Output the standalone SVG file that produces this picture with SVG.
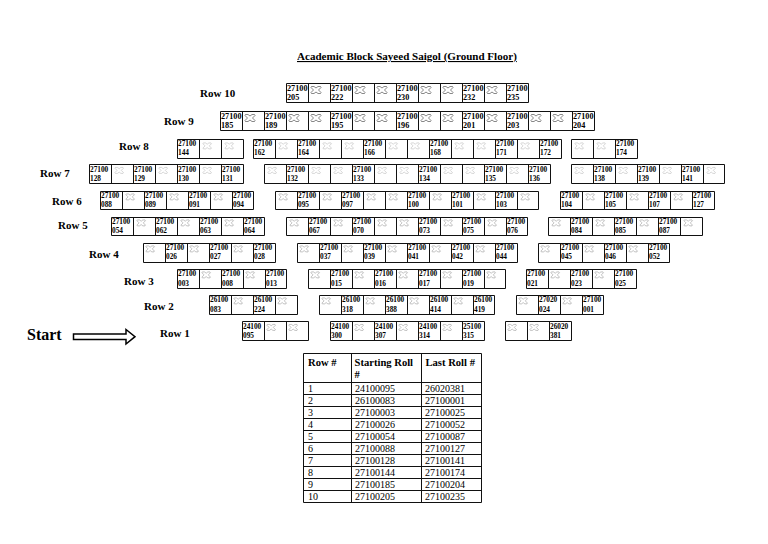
<svg xmlns="http://www.w3.org/2000/svg" width="768" height="544" viewBox="0 0 768 544">
<style>
text{font-family:"Liberation Serif","Times New Roman",serif;fill:#000}
svg>g{opacity:.995}
.l{font-weight:bold;font-size:11px}
.s{font-weight:bold;font-size:7.3px}
.b{font-weight:bold;font-size:8.2px}
.m{font-weight:bold;font-size:7.3px}
.g{fill:none;stroke:#111;stroke-width:1}
.ia{fill:none;stroke:#555;stroke-width:.7}
.ib{fill:none;stroke:#999;stroke-width:.7}
.ic{fill:none;stroke:#bbb;stroke-width:.7}
.th{font-weight:bold;font-size:10.6px}
.td{font-size:10px}
</style>
<defs>
<path id="x" d="M1,.5H3.5L5.5,2L7.5,.5H10L10.5,1.5L8,4L10.5,6.5L10,7.5H7.5L5.5,6L3.5,7.5H1L.5,6.5L3,4L.5,1.5Z"/>
<path id="y" transform="scale(.85)" d="M1,.5H3.5L5.5,2L7.5,.5H10L10.5,1.5L8,4L10.5,6.5L10,7.5H7.5L5.5,6L3.5,7.5H1L.5,6.5L3,4L.5,1.5Z"/>
</defs>
<g id="title"><text x="297" y="60" font-size="11.05" font-weight="bold" text-decoration="underline">Academic Block Sayeed Saigol (Ground Floor)</text></g>
<g id="row-labels">
<text class="l" x="200" y="97">Row 10</text>
<text class="l" x="164" y="125">Row 9</text>
<text class="l" x="119" y="150">Row 8</text>
<text class="l" x="40" y="177">Row 7</text>
<text class="l" x="52" y="205">Row 6</text>
<text class="l" x="58" y="229">Row 5</text>
<text class="l" x="89" y="258">Row 4</text>
<text class="l" x="124" y="285">Row 3</text>
<text class="l" x="144" y="310">Row 2</text>
<text class="l" x="160" y="337">Row 1</text>
<text x="27" y="340" font-size="16" font-weight="bold">Start</text>
</g>
<g id="connectors"><path id="start-arrow" d="M73.500,334H126V329.500L135,336.700L126,344V339.500H73.500Z" fill="#fff" stroke="#000" stroke-width="1.500"/></g>

<g id="row10" transform="translate(286.500,83.500)">
<path class="g" d="M0,0H242V19H0ZM22,0V19M44,0V19M66,0V19M88,0V19M110,0V19M132,0V19M154,0V19M176,0V19M198,0V19M220,0V19"/>
<g class="b"><text x=".5" y="7.500">27100</text><text x=".5" y="16.500">205</text><text x="44.500" y="7.500">27100</text><text x="44.500" y="16.500">222</text><text x="110.500" y="7.500">27100</text><text x="110.500" y="16.500">230</text><text x="176.500" y="7.500">27100</text><text x="176.500" y="16.500">232</text><text x="220.500" y="7.500">27100</text><text x="220.500" y="16.500">235</text></g>
<g class="ia"><use href="#x" x="24" y="2.500"/><use href="#x" x="68" y="2.500"/><use href="#x" x="90" y="2.500"/><use href="#x" x="134" y="2.500"/><use href="#x" x="156" y="2.500"/><use href="#x" x="200" y="2.500"/></g>
</g>

<g id="row9" transform="translate(220.500,111.500)">
<path class="g" d="M0,0H374V19H0ZM22,0V19M44,0V19M66,0V19M88,0V19M110,0V19M132,0V19M154,0V19M176,0V19M198,0V19M220,0V19M242,0V19M264,0V19M286,0V19M308,0V19M330,0V19M352,0V19"/>
<g class="b"><text x=".5" y="7.500">27100</text><text x=".5" y="16.500">185</text><text x="44.500" y="7.500">27100</text><text x="44.500" y="16.500">189</text><text x="110.500" y="7.500">27100</text><text x="110.500" y="16.500">195</text><text x="176.500" y="7.500">27100</text><text x="176.500" y="16.500">196</text><text x="242.500" y="7.500">27100</text><text x="242.500" y="16.500">201</text><text x="286.500" y="7.500">27100</text><text x="286.500" y="16.500">203</text><text x="352.500" y="7.500">27100</text><text x="352.500" y="16.500">204</text></g>
<g class="ia"><use href="#x" x="24" y="2.500"/><use href="#x" x="68" y="2.500"/><use href="#x" x="90" y="2.500"/><use href="#x" x="134" y="2.500"/><use href="#x" x="156" y="2.500"/><use href="#x" x="200" y="2.500"/><use href="#x" x="222" y="2.500"/><use href="#x" x="266" y="2.500"/><use href="#x" x="310" y="2.500"/><use href="#x" x="332" y="2.500"/></g>
</g>

<g id="row8">
<g transform="translate(177.500,139.500)">
<path class="g" d="M0,0H66V19H0ZM22,0V19M44,0V19"/>
<g class="m"><text x=".5" y="6.500">27100</text><text x=".5" y="15">144</text></g>
<g class="ic"><use href="#y" x="25" y="3"/><use href="#y" x="47" y="3"/></g>
</g>
<g transform="translate(253.500,139.500)">
<path class="g" d="M0,0H308V19H0ZM22,0V19M44,0V19M66,0V19M88,0V19M110,0V19M132,0V19M154,0V19M176,0V19M198,0V19M220,0V19M242,0V19M264,0V19M286,0V19"/>
<g class="m"><text x=".5" y="6.500">27100</text><text x=".5" y="15">162</text><text x="44.500" y="6.500">27100</text><text x="44.500" y="15">164</text><text x="110.500" y="6.500">27100</text><text x="110.500" y="15">166</text><text x="176.500" y="6.500">27100</text><text x="176.500" y="15">168</text><text x="242.500" y="6.500">27100</text><text x="242.500" y="15">171</text><text x="286.500" y="6.500">27100</text><text x="286.500" y="15">172</text></g>
<g class="ic"><use href="#y" x="25" y="3"/><use href="#y" x="69" y="3"/><use href="#y" x="91" y="3"/><use href="#y" x="135" y="3"/><use href="#y" x="157" y="3"/><use href="#y" x="201" y="3"/><use href="#y" x="223" y="3"/><use href="#y" x="267" y="3"/></g>
</g>
<g transform="translate(571.500,139.500)">
<path class="g" d="M0,0H66V19H0ZM22,0V19M44,0V19"/>
<g class="m"><text x="44.500" y="6.500">27100</text><text x="44.500" y="15">174</text></g>
<g class="ic"><use href="#y" x="3" y="3"/><use href="#y" x="25" y="3"/></g>
</g>
</g>

<g id="row7">
<g transform="translate(89.500,164.500)">
<path class="g" d="M0,0H154V19H0ZM22,0V19M44,0V19M66,0V19M88,0V19M110,0V19M132,0V19"/>
<g class="s"><text x=".5" y="7.300">27100</text><text x=".5" y="16">128</text><text x="44.500" y="7.300">27100</text><text x="44.500" y="16">129</text><text x="88.500" y="7.300">27100</text><text x="88.500" y="16">130</text><text x="132.500" y="7.300">27100</text><text x="132.500" y="16">131</text></g>
<g class="ic"><use href="#y" x="25" y="2.500"/><use href="#y" x="69" y="2.500"/><use href="#y" x="113" y="2.500"/></g>
</g>
<g transform="translate(264.500,164.500)">
<path class="g" d="M0,0H286V19H0ZM22,0V19M44,0V19M66,0V19M88,0V19M110,0V19M132,0V19M154,0V19M176,0V19M198,0V19M220,0V19M242,0V19M264,0V19"/>
<g class="s"><text x="22.500" y="7.300">27100</text><text x="22.500" y="16">132</text><text x="88.500" y="7.300">27100</text><text x="88.500" y="16">133</text><text x="154.500" y="7.300">27100</text><text x="154.500" y="16">134</text><text x="220.500" y="7.300">27100</text><text x="220.500" y="16">135</text><text x="264.500" y="7.300">27100</text><text x="264.500" y="16">136</text></g>
<g class="ic"><use href="#y" x="3" y="2.500"/><use href="#y" x="47" y="2.500"/><use href="#y" x="69" y="2.500"/><use href="#y" x="113" y="2.500"/><use href="#y" x="135" y="2.500"/><use href="#y" x="179" y="2.500"/><use href="#y" x="201" y="2.500"/><use href="#y" x="245" y="2.500"/></g>
</g>
<g transform="translate(571.500,164.500)">
<path class="g" d="M0,0H153V19H0ZM22,0V19M44,0V19M66,0V19M88,0V19M110,0V19M132,0V19"/>
<g class="s"><text x="22.500" y="7.300">27100</text><text x="22.500" y="16">138</text><text x="66.500" y="7.300">27100</text><text x="66.500" y="16">139</text><text x="110.500" y="7.300">27100</text><text x="110.500" y="16">141</text></g>
<g class="ic"><use href="#y" x="3" y="2.500"/><use href="#y" x="47" y="2.500"/><use href="#y" x="91" y="2.500"/><use href="#y" x="135" y="2.500"/></g>
</g>
</g>

<g id="row6">
<g transform="translate(100.500,191.500)">
<path class="g" d="M0,0H153V18H0ZM22,0V18M44,0V18M66,0V18M88,0V18M110,0V18M132,0V18"/>
<g class="s"><text x=".5" y="6.800">27100</text><text x=".5" y="15.500">088</text><text x="44.500" y="6.800">27100</text><text x="44.500" y="15.500">089</text><text x="88.500" y="6.800">27100</text><text x="88.500" y="15.500">091</text><text x="132.500" y="6.800">27100</text><text x="132.500" y="15.500">094</text></g>
<g class="ib"><use href="#y" x="25" y="2"/><use href="#y" x="69" y="2"/><use href="#y" x="113" y="2"/></g>
</g>
<g transform="translate(275.500,191.500)">
<path class="g" d="M0,0H263V18H0ZM22,0V18M44,0V18M66,0V18M88,0V18M110,0V18M132,0V18M154,0V18M176,0V18M198,0V18M220,0V18M242,0V18"/>
<g class="s"><text x="22.500" y="6.800">27100</text><text x="22.500" y="15.500">095</text><text x="66.500" y="6.800">27100</text><text x="66.500" y="15.500">097</text><text x="132.500" y="6.800">27100</text><text x="132.500" y="15.500">100</text><text x="176.500" y="6.800">27100</text><text x="176.500" y="15.500">101</text><text x="220.500" y="6.800">27100</text><text x="220.500" y="15.500">103</text></g>
<g class="ib"><use href="#y" x="3" y="2"/><use href="#y" x="47" y="2"/><use href="#y" x="91" y="2"/><use href="#y" x="113" y="2"/><use href="#y" x="157" y="2"/><use href="#y" x="201" y="2"/><use href="#y" x="245" y="2"/></g>
</g>
<g transform="translate(560.500,191.500)">
<path class="g" d="M0,0H154V18H0ZM22,0V18M44,0V18M66,0V18M88,0V18M110,0V18M132,0V18"/>
<g class="s"><text x=".5" y="6.800">27100</text><text x=".5" y="15.500">104</text><text x="44.500" y="6.800">27100</text><text x="44.500" y="15.500">105</text><text x="88.500" y="6.800">27100</text><text x="88.500" y="15.500">107</text><text x="132.500" y="6.800">27100</text><text x="132.500" y="15.500">127</text></g>
<g class="ib"><use href="#y" x="25" y="2"/><use href="#y" x="69" y="2"/><use href="#y" x="113" y="2"/></g>
</g>
</g>

<g id="row5">
<g transform="translate(111.500,217.500)">
<path class="g" d="M0,0H153V18H0ZM22,0V18M44,0V18M66,0V18M88,0V18M110,0V18M132,0V18"/>
<g class="s"><text x=".5" y="6.800">27100</text><text x=".5" y="15.500">054</text><text x="44.500" y="6.800">27100</text><text x="44.500" y="15.500">062</text><text x="88.500" y="6.800">27100</text><text x="88.500" y="15.500">063</text><text x="132.500" y="6.800">27100</text><text x="132.500" y="15.500">064</text></g>
<g class="ib"><use href="#y" x="25" y="2"/><use href="#y" x="69" y="2"/><use href="#y" x="113" y="2"/></g>
</g>
<g transform="translate(286.500,217.500)">
<path class="g" d="M0,0H241V18H0ZM22,0V18M44,0V18M66,0V18M88,0V18M110,0V18M132,0V18M154,0V18M176,0V18M198,0V18M220,0V18"/>
<g class="s"><text x="22.500" y="6.800">27100</text><text x="22.500" y="15.500">067</text><text x="66.500" y="6.800">27100</text><text x="66.500" y="15.500">070</text><text x="132.500" y="6.800">27100</text><text x="132.500" y="15.500">073</text><text x="176.500" y="6.800">27100</text><text x="176.500" y="15.500">075</text><text x="220.500" y="6.800">27100</text><text x="220.500" y="15.500">076</text></g>
<g class="ib"><use href="#y" x="3" y="2"/><use href="#y" x="47" y="2"/><use href="#y" x="91" y="2"/><use href="#y" x="113" y="2"/><use href="#y" x="157" y="2"/><use href="#y" x="201" y="2"/></g>
</g>
<g transform="translate(548.500,217.500)">
<path class="g" d="M0,0H154V18H0ZM22,0V18M44,0V18M66,0V18M88,0V18M110,0V18M132,0V18"/>
<g class="s"><text x="22.500" y="6.800">27100</text><text x="22.500" y="15.500">084</text><text x="66.500" y="6.800">27100</text><text x="66.500" y="15.500">085</text><text x="110.500" y="6.800">27100</text><text x="110.500" y="15.500">087</text></g>
<g class="ib"><use href="#y" x="3" y="2"/><use href="#y" x="47" y="2"/><use href="#y" x="91" y="2"/><use href="#y" x="135" y="2"/></g>
</g>
</g>

<g id="row4">
<g transform="translate(143.500,243.500)">
<path class="g" d="M0,0H132V19H0ZM22,0V19M44,0V19M66,0V19M88,0V19M110,0V19"/>
<g class="s"><text x="22.500" y="6.800">27100</text><text x="22.500" y="15.800">026</text><text x="66.500" y="6.800">27100</text><text x="66.500" y="15.800">027</text><text x="110.500" y="6.800">27100</text><text x="110.500" y="15.800">028</text></g>
<g class="ib"><use href="#y" x="2" y="2"/><use href="#y" x="46" y="2"/><use href="#y" x="90" y="2"/></g>
</g>
<g transform="translate(297.500,243.500)">
<path class="g" d="M0,0H220V19H0ZM22,0V19M44,0V19M66,0V19M88,0V19M110,0V19M132,0V19M154,0V19M176,0V19M198,0V19"/>
<g class="s"><text x="22.500" y="6.800">27100</text><text x="22.500" y="15.800">037</text><text x="66.500" y="6.800">27100</text><text x="66.500" y="15.800">039</text><text x="110.500" y="6.800">27100</text><text x="110.500" y="15.800">041</text><text x="154.500" y="6.800">27100</text><text x="154.500" y="15.800">042</text><text x="198.500" y="6.800">27100</text><text x="198.500" y="15.800">044</text></g>
<g class="ib"><use href="#y" x="2" y="2"/><use href="#y" x="46" y="2"/><use href="#y" x="90" y="2"/><use href="#y" x="134" y="2"/><use href="#y" x="178" y="2"/></g>
</g>
<g transform="translate(538.500,243.500)">
<path class="g" d="M0,0H131V19H0ZM22,0V19M44,0V19M66,0V19M88,0V19M110,0V19"/>
<g class="s"><text x="22.500" y="6.800">27100</text><text x="22.500" y="15.800">045</text><text x="66.500" y="6.800">27100</text><text x="66.500" y="15.800">046</text><text x="110.500" y="6.800">27100</text><text x="110.500" y="15.800">052</text></g>
<g class="ib"><use href="#y" x="2" y="2"/><use href="#y" x="46" y="2"/><use href="#y" x="90" y="2"/></g>
</g>
</g>

<g id="row3">
<g transform="translate(177.500,269.500)">
<path class="g" d="M0,0H109V19H0ZM22,0V19M44,0V19M66,0V19M88,0V19"/>
<g class="s"><text x=".5" y="6.800">27100</text><text x=".5" y="16">003</text><text x="44.500" y="6.800">27100</text><text x="44.500" y="16">008</text><text x="88.500" y="6.800">27100</text><text x="88.500" y="16">013</text></g>
<g class="ib"><use href="#y" x="24" y="2"/><use href="#y" x="68" y="2"/></g>
</g>
<g transform="translate(308.500,269.500)">
<path class="g" d="M0,0H197V19H0ZM22,0V19M44,0V19M66,0V19M88,0V19M110,0V19M132,0V19M154,0V19M176,0V19"/>
<g class="s"><text x="22.500" y="6.800">27100</text><text x="22.500" y="16">015</text><text x="66.500" y="6.800">27100</text><text x="66.500" y="16">016</text><text x="110.500" y="6.800">27100</text><text x="110.500" y="16">017</text><text x="154.500" y="6.800">27100</text><text x="154.500" y="16">019</text></g>
<g class="ib"><use href="#y" x="2" y="2"/><use href="#y" x="46" y="2"/><use href="#y" x="90" y="2"/><use href="#y" x="134" y="2"/><use href="#y" x="178" y="2"/></g>
</g>
<g transform="translate(526.500,269.500)">
<path class="g" d="M0,0H110V19H0ZM22,0V19M44,0V19M66,0V19M88,0V19"/>
<g class="s"><text x=".5" y="6.800">27100</text><text x=".5" y="16">021</text><text x="44.500" y="6.800">27100</text><text x="44.500" y="16">023</text><text x="88.500" y="6.800">27100</text><text x="88.500" y="16">025</text></g>
<g class="ib"><use href="#y" x="24" y="2"/><use href="#y" x="68" y="2"/></g>
</g>
</g>

<g id="row2">
<g transform="translate(209.500,295.500)">
<path class="g" d="M0,0H88V19H0ZM22,0V19M44,0V19M66,0V19"/>
<g class="s"><text x=".5" y="6.800">26100</text><text x=".5" y="16">083</text><text x="44.500" y="6.800">26100</text><text x="44.500" y="16">224</text></g>
<g class="ib"><use href="#y" x="24" y="2"/><use href="#y" x="68" y="2"/></g>
</g>
<g transform="translate(319.500,295.500)">
<path class="g" d="M0,0H175V19H0ZM22,0V19M44,0V19M66,0V19M88,0V19M110,0V19M132,0V19M154,0V19"/>
<g class="s"><text x="22.500" y="6.800">26100</text><text x="22.500" y="16">318</text><text x="66.500" y="6.800">26100</text><text x="66.500" y="16">388</text><text x="110.500" y="6.800">26100</text><text x="110.500" y="16">414</text><text x="154.500" y="6.800">26100</text><text x="154.500" y="16">419</text></g>
<g class="ib"><use href="#y" x="2" y="2"/><use href="#y" x="46" y="2"/><use href="#y" x="90" y="2"/><use href="#y" x="134" y="2"/></g>
</g>
<g transform="translate(516.500,295.500)">
<path class="g" d="M0,0H87V19H0ZM22,0V19M44,0V19M66,0V19"/>
<g class="s"><text x="22.500" y="6.800">27020</text><text x="22.500" y="16">024</text><text x="66.500" y="6.800">27100</text><text x="66.500" y="16">001</text></g>
<g class="ib"><use href="#y" x="2" y="2"/><use href="#y" x="46" y="2"/></g>
</g>
</g>

<g id="row1">
<g transform="translate(242.500,321.500)">
<path class="g" d="M0,0H66V19H0ZM22,0V19M44,0V19"/>
<g class="s"><text x=".5" y="7.300">24100</text><text x=".5" y="16.500">095</text></g>
<g class="ib"><use href="#y" x="24" y="2.500"/><use href="#y" x="46" y="2.500"/></g>
</g>
<g transform="translate(330.500,321.500)">
<path class="g" d="M0,0H154V19H0ZM22,0V19M44,0V19M66,0V19M88,0V19M110,0V19M132,0V19"/>
<g class="s"><text x=".5" y="7.300">24100</text><text x=".5" y="16.500">300</text><text x="44.500" y="7.300">24100</text><text x="44.500" y="16.500">307</text><text x="88.500" y="7.300">24100</text><text x="88.500" y="16.500">314</text><text x="132.500" y="7.300">25100</text><text x="132.500" y="16.500">315</text></g>
<g class="ib"><use href="#y" x="24" y="2.500"/><use href="#y" x="68" y="2.500"/><use href="#y" x="112" y="2.500"/></g>
</g>
<g transform="translate(505.500,321.500)">
<path class="g" d="M0,0H66V19H0ZM22,0V19M44,0V19"/>
<g class="s"><text x="44.500" y="7.300">26020</text><text x="44.500" y="16.500">381</text></g>
<g class="ib"><use href="#y" x="2" y="2.500"/><use href="#y" x="24" y="2.500"/></g>
</g>
</g>

<g id="legend-table">
<path fill="none" stroke="#111" stroke-width="1" d="M303.500,353.500H481.500V502.500H303.500ZM351.500,353.500V502.500M421.500,353.500V502.500M303.500,382.500H481.500M303.500,394.500H481.500M303.500,406.500H481.500M303.500,418.500H481.500M303.500,430.500H481.500M303.500,442.500H481.500M303.500,454.500H481.500M303.500,466.500H481.500M303.500,478.500H481.500M303.500,490.500H481.500"/>
<text class="th" x="308" y="366">Row #</text><text class="th" x="354.500" y="366">Starting Roll</text><text class="th" x="354.500" y="378">#</text><text class="th" x="425.500" y="366">Last Roll #</text>
<g class="td">
<text x="308" y="392">1</text><text x="355" y="392">24100095</text><text x="425" y="392">26020381</text>
<text x="308" y="404">2</text><text x="355" y="404">26100083</text><text x="425" y="404">27100001</text>
<text x="308" y="416">3</text><text x="355" y="416">27100003</text><text x="425" y="416">27100025</text>
<text x="308" y="428">4</text><text x="355" y="428">27100026</text><text x="425" y="428">27100052</text>
<text x="308" y="440">5</text><text x="355" y="440">27100054</text><text x="425" y="440">27100087</text>
<text x="308" y="452">6</text><text x="355" y="452">27100088</text><text x="425" y="452">27100127</text>
<text x="308" y="464">7</text><text x="355" y="464">27100128</text><text x="425" y="464">27100141</text>
<text x="308" y="476">8</text><text x="355" y="476">27100144</text><text x="425" y="476">27100174</text>
<text x="308" y="488">9</text><text x="355" y="488">27100185</text><text x="425" y="488">27100204</text>
<text x="308" y="500">10</text><text x="355" y="500">27100205</text><text x="425" y="500">27100235</text>
</g>
</g>
</svg>
